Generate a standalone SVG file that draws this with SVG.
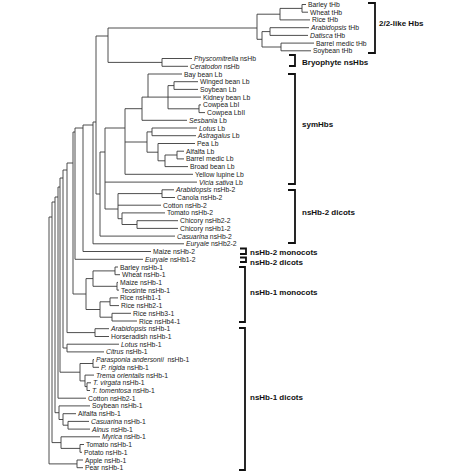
<svg xmlns="http://www.w3.org/2000/svg" width="474" height="474" viewBox="0 0 474 474">
<style>
.t{font-family:"Liberation Sans",Arial,sans-serif;font-size:6.8px;fill:#222}
.i{font-style:italic}
.c{fill:none;stroke:#3a3a3a;stroke-width:0.9}
.b{fill:none;stroke:#111;stroke-width:1.8}
.l{font-family:"Liberation Sans",Arial,sans-serif;font-size:8px;font-weight:bold;fill:#111}
</style>
<rect width="474" height="474" fill="#fff"/>
<g id="connectors">
<path class="c" d="M302 4.5V12.2M302 4.5H306M302 12.2H308M280 8.4V19.9M280 8.4H302M280 19.9H310M270 27.7V35.4M270 27.7H309M270 35.4H308M281 43.1V50.8M281 43.1H314M281 50.8H311M262 31.6V47M262 31.6H270M262 47H281M257 14.2V39.3M257 14.2H280M257 39.3H262M162 58.5V66.3M162 58.5H192M162 66.3H188M108 28V62.4M108 28H257M108 62.4H162"/>
<path class="c" d="M174 81.7V89.4M174 81.7H198M174 89.4H198M199 104.9V112.6M199 104.9H201M199 112.6H205M168 85.6V108.8M168 85.6H174M168 97.1H201M168 108.8H199M148 74V97.1M148 74H182M148 97.1H168M142 97.1V120.3M142 97.1H148M142 120.3H187M152 128V135.7M152 128H197M152 135.7H196M177 151.2V158.9M177 151.2H184M177 158.9H184M165 155V166.6M165 155H177M165 166.6H188M158 143.5V160.8M158 143.5H195M158 160.8H165M147 131.9V152.2M147 131.9H152M147 152.2H158M125 108.7V174.3M125 108.7H142M125 142H147M125 174.3H193"/>
<path class="c" d="M162 189.8V197.5M162 189.8H174M162 197.5H175M137 220.7V228.4M137 220.7H178M137 228.4H178M122 212.9V224.5M122 212.9H165M122 224.5H137M118 193.6V218.7M118 193.6H162M118 205.2H161M118 218.7H122M105 128V209M105 128H125M105 182.1H197M105 209H118M100 152V236.1M100 152H105M100 236.1H175M96 36V194M96 36H108M96 194H100M93 122V243.8M93 122H96M93 243.8H184M83 125V251.5M83 125H93M83 251.5H151M75 128V259.3M75 128H83M75 259.3H143"/>
<path class="c" d="M115 267V274.7M115 267H118M115 274.7H120M117 282.4V290.1M117 282.4H118M117 290.1H119M93 270.9V286.3M93 270.9H115M93 286.3H117M110 297.9V305.6M110 297.9H118M110 305.6H119M112 313.3V321M112 313.3H131M112 321H137M100 301.8V317.2M100 301.8H110M100 317.2H112M86 278.6V309.5M86 278.6H93M86 309.5H100M73 132V294M73 132H75M73 294H86"/>
<path class="c" d="M95 328.7V336.5M95 328.7H109M95 336.5H109M67 163V332.6M67 163H73M67 332.6H95M67 344.2V351.9M67 344.2H119M67 351.9H104M63 170V348M63 170H67M63 348H67M93 359.6V367.3M93 359.6H94M93 367.3H99M87 382.8V390.5M87 382.8H91M87 390.5H90M85 375.1V386.6M85 375.1H94M85 386.6H87M80 363.5V380.9M80 363.5H93M80 380.9H85M60 178V372.2M60 178H63M60 372.2H80M58 187V398.2M58 187H60M58 398.2H86"/>
<path class="c" d="M68 421.4V429.1M68 421.4H89M68 429.1H90M63 413.7V425.2M63 413.7H76M63 425.2H68M59 405.9V419.5M59 405.9H90M59 419.5H63M55 197V412.7M55 197H58M55 412.7H59M80 444.5V452.3M80 444.5H84M80 452.3H82M61 436.8V448.4M61 436.8H100M61 448.4H80M52 202V442.6M52 202H55M52 442.6H61M77 460V467.7M77 460H83M77 467.7H83M49 217V463.9M49 217H52M49 463.9H77"/>
</g>
<g id="n01"><text class="t" x="308" y="7.0">Barley tHb</text></g>
<g id="n02"><text class="t" x="310" y="14.7">Wheat tHb</text></g>
<g id="n03"><text class="t" x="312" y="22.4">Rice tHb</text></g>
<g id="n04"><text class="t" x="311" y="30.2"><tspan class="i">Arabidopsis</tspan> tHb</text></g>
<g id="n05"><text class="t" x="310" y="37.9"><tspan class="i">Datisca</tspan> tHb</text></g>
<g id="n06"><text class="t" x="316" y="45.6">Barrel medic tHb</text></g>
<g id="n07"><text class="t" x="313" y="53.3">Soybean tHb</text></g>
<g id="n08"><text class="t" x="194" y="61.0"><tspan class="i">Physcomitrella</tspan> nsHb</text></g>
<g id="n09"><text class="t" x="190" y="68.8"><tspan class="i">Ceratodon</tspan>  nsHb</text></g>
<g id="n10"><text class="t" x="184" y="76.5">Bay bean Lb</text></g>
<g id="n11"><text class="t" x="200" y="84.2">Winged bean Lb</text></g>
<g id="n12"><text class="t" x="200" y="91.9">Soybean Lb</text></g>
<g id="n13"><text class="t" x="203" y="99.6">Kidney bean Lb</text></g>
<g id="n14"><text class="t" x="203" y="107.4">Cowpea LbI</text></g>
<g id="n15"><text class="t" x="207" y="115.1">Cowpea LbII</text></g>
<g id="n16"><text class="t" x="189" y="122.8"><tspan class="i">Sesbania</tspan> Lb</text></g>
<g id="n17"><text class="t" x="199" y="130.5"><tspan class="i">Lotus</tspan> Lb</text></g>
<g id="n18"><text class="t" x="198" y="138.2"><tspan class="i">Astragalus</tspan> Lb</text></g>
<g id="n19"><text class="t" x="197" y="146.0">Pea Lb</text></g>
<g id="n20"><text class="t" x="186" y="153.7">Alfalfa Lb</text></g>
<g id="n21"><text class="t" x="186" y="161.4">Barrel medic Lb</text></g>
<g id="n22"><text class="t" x="190" y="169.1">Broad bean Lb</text></g>
<g id="n23"><text class="t" x="195" y="176.8">Yellow lupine Lb</text></g>
<g id="n24"><text class="t" x="199" y="184.6"><tspan class="i">Vicia sativa</tspan> Lb</text></g>
<g id="n25"><text class="t" x="176" y="192.3"><tspan class="i">Arabidopsis</tspan> nsHb-2</text></g>
<g id="n26"><text class="t" x="177" y="200.0">Canola nsHb-2</text></g>
<g id="n27"><text class="t" x="163" y="207.7">Cotton nsHb-2</text></g>
<g id="n28"><text class="t" x="167" y="215.4">Tomato nsHb-2</text></g>
<g id="n29"><text class="t" x="180" y="223.2">Chicory nsHb2-2</text></g>
<g id="n30"><text class="t" x="180" y="230.9">Chicory nsHb1-2</text></g>
<g id="n31"><text class="t" x="177" y="238.6"><tspan class="i">Casuarina</tspan> nsHb-2</text></g>
<g id="n32"><text class="t" x="186" y="246.3"><tspan class="i">Euryale</tspan> nsHb2-2</text></g>
<g id="n33"><text class="t" x="153" y="254.0">Maize nsHb-2</text></g>
<g id="n34"><text class="t" x="145" y="261.8"><tspan class="i">Euryale</tspan> nsHb1-2</text></g>
<g id="n35"><text class="t" x="120" y="269.5">Barley nsHb-1</text></g>
<g id="n36"><text class="t" x="122" y="277.2">Wheat nsHb-1</text></g>
<g id="n37"><text class="t" x="120" y="284.9">Maize nsHb-1</text></g>
<g id="n38"><text class="t" x="121" y="292.6">Teosinte nsHb-1</text></g>
<g id="n39"><text class="t" x="120" y="300.4">Rice nsHb1-1</text></g>
<g id="n40"><text class="t" x="121" y="308.1">Rice nsHb2-1</text></g>
<g id="n41"><text class="t" x="133" y="315.8">Rice nsHb3-1</text></g>
<g id="n42"><text class="t" x="139" y="323.5">Rice nsHb4-1</text></g>
<g id="n43"><text class="t" x="111" y="331.2"><tspan class="i">Arabidopsis</tspan> nsHb-1</text></g>
<g id="n44"><text class="t" x="111" y="339.0">Horseradish nsHb-1</text></g>
<g id="n45"><text class="t" x="121" y="346.7"><tspan class="i">Lotus</tspan> nsHb-1</text></g>
<g id="n46"><text class="t" x="106" y="354.4"><tspan class="i">Citrus</tspan> nsHb-1</text></g>
<g id="n47"><text class="t" x="96" y="362.1" xml:space="preserve"><tspan class="i">Parasponia andersonii</tspan>  nsHb-1</text></g>
<g id="n48"><text class="t" x="101" y="369.8"><tspan class="i">P. rigida</tspan> nsHb-1</text></g>
<g id="n49"><text class="t" x="96" y="377.6"><tspan class="i">Trema orientalis</tspan> nsHb-1</text></g>
<g id="n50"><text class="t" x="93" y="385.3"><tspan class="i">T. virgata</tspan> nsHb-1</text></g>
<g id="n51"><text class="t" x="92" y="393.0"><tspan class="i">T. tomentosa</tspan> nsHb-1</text></g>
<g id="n52"><text class="t" x="88" y="400.7">Cotton nsHb2-1</text></g>
<g id="n53"><text class="t" x="92" y="408.4">Soybean nsHb-1</text></g>
<g id="n54"><text class="t" x="78" y="416.2">Alfalfa nsHb-1</text></g>
<g id="n55"><text class="t" x="91" y="423.9"><tspan class="i">Casuarina</tspan> nsHb-1</text></g>
<g id="n56"><text class="t" x="92" y="431.6"><tspan class="i">Alnus</tspan> nsHb-1</text></g>
<g id="n57"><text class="t" x="102" y="439.3"><tspan class="i">Myrica</tspan> nsHb-1</text></g>
<g id="n58"><text class="t" x="86" y="447.0">Tomato nsHb-1</text></g>
<g id="n59"><text class="t" x="84" y="454.8">Potato nsHb-1</text></g>
<g id="n60"><text class="t" x="85" y="462.5">Apple nsHb-1</text></g>
<g id="n61"><text class="t" x="85" y="470.2">Pear nsHb-1</text></g>
<g id="clade-22hbs"><path class="b" d="M368 3H375V53H368"/><text class="l" x="379" y="26">2/2-like Hbs</text></g>
<g id="clade-bryophyte"><path class="b" d="M289 55H295V66H289"/><text class="l" x="302" y="65">Bryophyte nsHbs</text></g>
<g id="clade-symhbs"><path class="b" d="M288 74H295V184H288"/><text class="l" x="302" y="127">symHbs</text></g>
<g id="clade-nshb2-dicots-a"><path class="b" d="M288 190H295V243H288"/><text class="l" x="302" y="215">nsHb-2 dicots</text></g>
<g id="clade-nshb2-monocots"><path class="b" d="M240 248.5H246V254H240"/><text class="l" x="250" y="254.5">nsHb-2 monocots</text></g>
<g id="clade-nshb2-dicots-b"><path class="b" d="M240 257.5H246V262H240"/><text class="l" x="250" y="265">nsHb-2 dicots</text></g>
<g id="clade-nshb1-monocots"><path class="b" d="M239 267H245V322H239"/><text class="l" x="250" y="295">nsHb-1 monocots</text></g>
<g id="clade-nshb1-dicots"><path class="b" d="M239 328H245V470H239"/><text class="l" x="250" y="400">nsHb-1 dicots</text></g>
</svg>
